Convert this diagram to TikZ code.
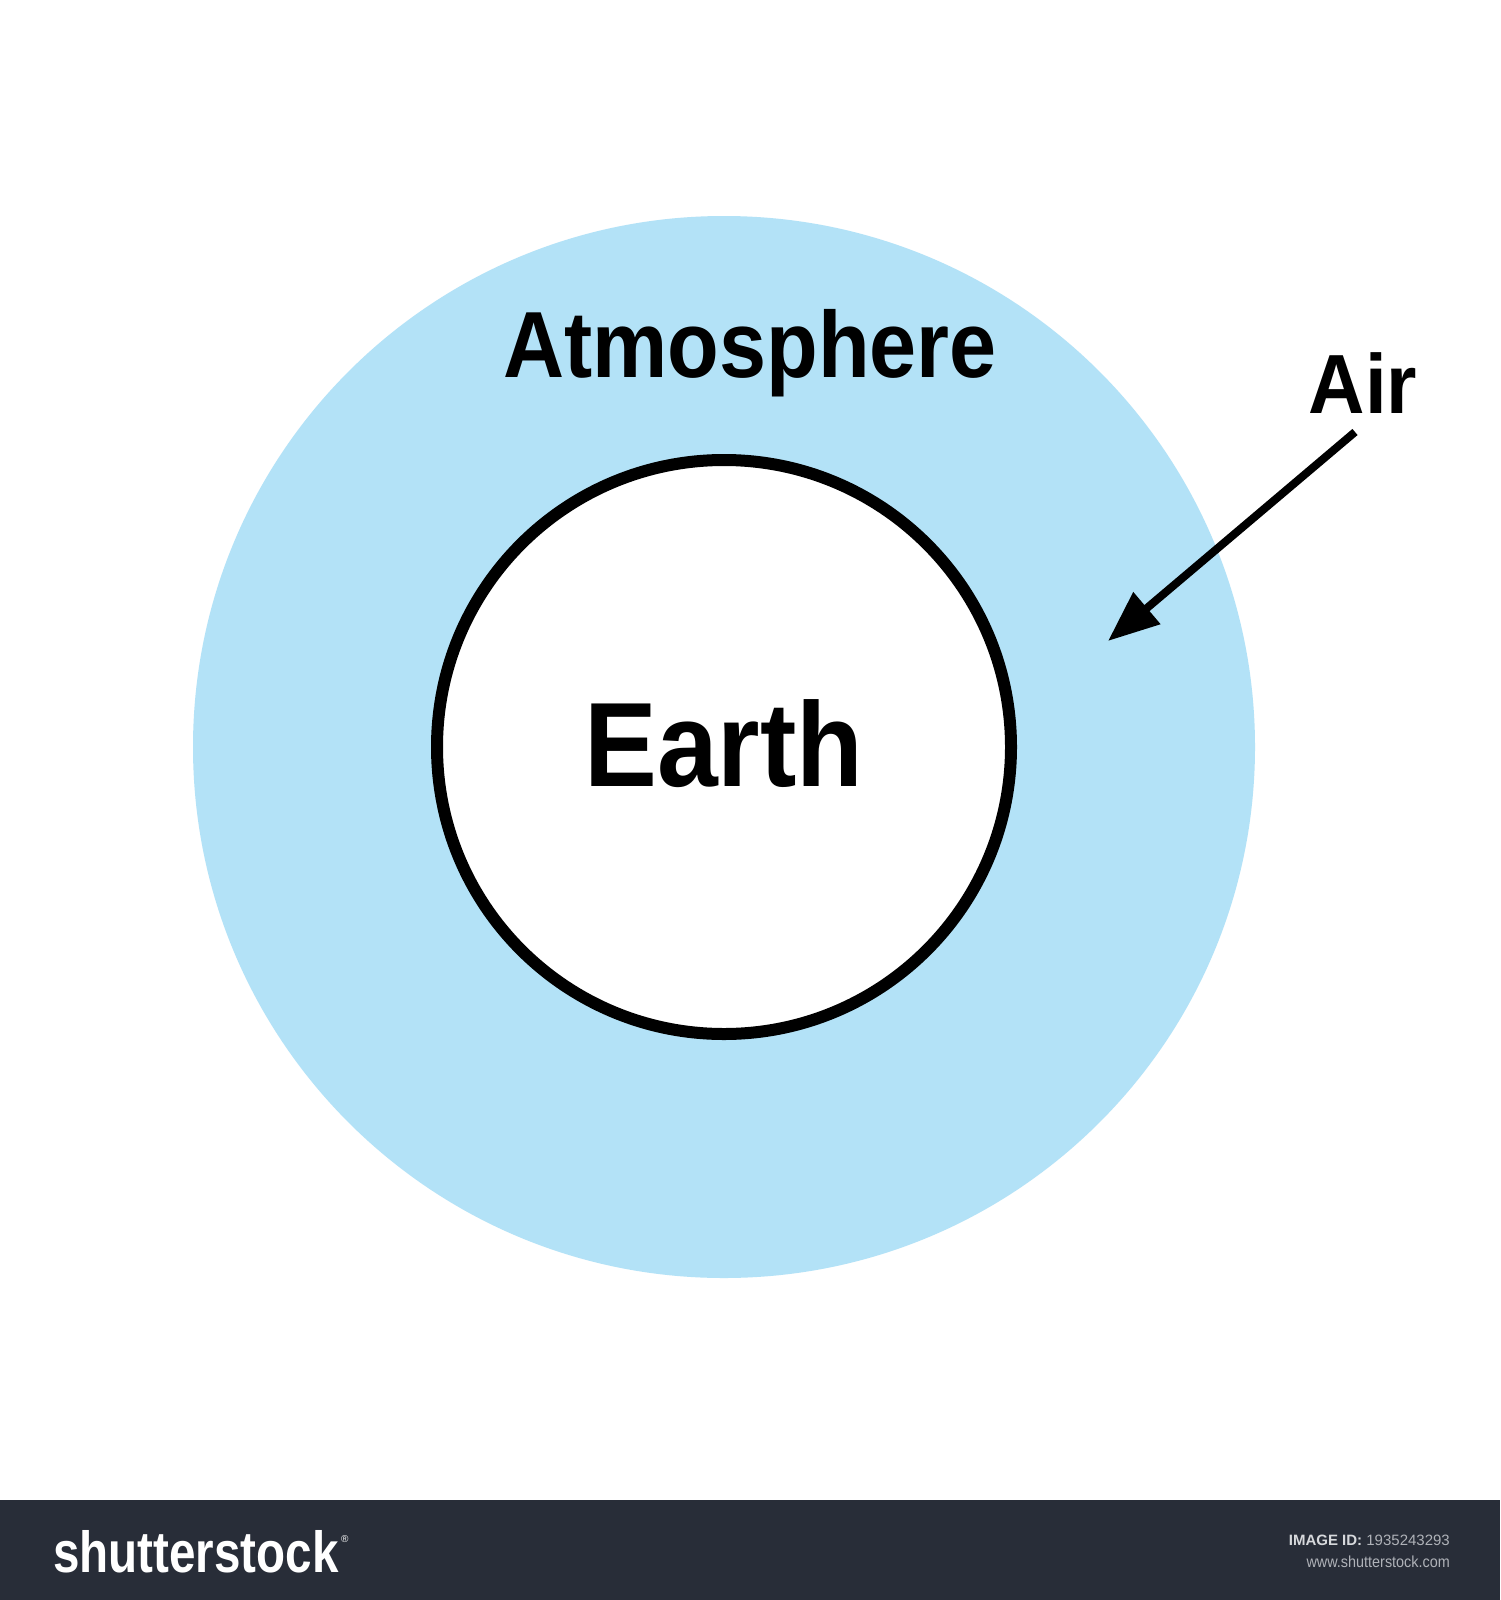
\documentclass[tikz,border=0pt]{standalone}
\usepackage{fontspec}
\setmainfont{Liberation Sans}
\usetikzlibrary{arrows.meta}
\definecolor{atmo}{RGB}{179,226,247}
\definecolor{footbg}{RGB}{40,45,56}
\definecolor{footlight}{RGB}{215,217,220}
\definecolor{footgray}{RGB}{175,178,184}
\tikzset{
  lbl/.style={inner sep=0pt, anchor=base, text=black, font=\bfseries},
  foot/.style={inner sep=0pt},
}
\begin{document}
\begin{tikzpicture}[x=1pt,y=-1pt]
\useasboundingbox (0,0) rectangle (1500,1600);
\fill[white] (0,0) rectangle (1500,1600);
% atmosphere
\fill[atmo] (724,747) circle[radius=531];
% earth
\node[circle, draw=black, line width=12pt, fill=white, minimum size=574pt, inner sep=0pt] (earth) at (724,747) {};
\node[lbl, font=\fontsize{120}{120}\selectfont\bfseries] (earthlbl) at (724,786) {\scalebox{0.91}[1]{Earth}};
\node[lbl, font=\fontsize{94}{94}\selectfont\bfseries] (atmolbl) at (750,377) {\scalebox{0.90}[1]{Atmosphere}};
\node[lbl, font=\fontsize{84}{84}\selectfont\bfseries] (air) at (1363,413) {\scalebox{0.93}[1]{Air}};
\coordinate (airstart) at (1355,432);
\coordinate (airtip) at (1108,641);
\draw[line width=8pt, -{Triangle[length=51pt,width=40pt]}] (airstart) -- (airtip);
% footer
\fill[footbg] (0,1500) rectangle (1500,1600);
\node[foot, anchor=base west, text=white, font=\fontsize{58}{58}\selectfont\bfseries] (logo) at (53,1572) {\scalebox{0.82}[1]{shutterstock}};
\node[foot, anchor=base west, text=white, font=\fontsize{10}{10}\selectfont] (reg) at (logo.base east) [xshift=2pt, yshift=30pt] {\textregistered};
\node[foot, anchor=base east, font=\fontsize{15}{15}\selectfont] (imgid) at (1450,1545) {\textcolor{footlight}{\bfseries IMAGE ID:} \textcolor{footgray}{1935243293}};
\node[foot, anchor=base east, text=footgray, font=\fontsize{16}{16}\selectfont] (www) at (1450,1567) {\scalebox{0.9}[1]{www.shutterstock.com}};
\end{tikzpicture}
\end{document}
